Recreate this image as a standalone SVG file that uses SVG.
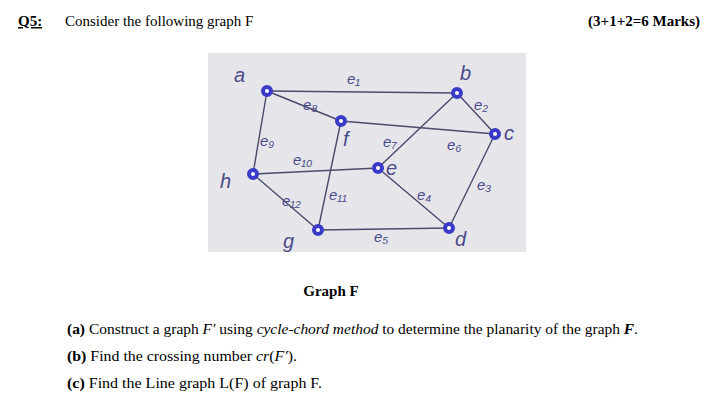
<svg xmlns="http://www.w3.org/2000/svg" width="716" height="405" viewBox="0 0 716 405">
<style>
.t{font-family:"Liberation Serif",serif;font-size:15px;fill:#000}
.b{font-weight:bold}
.n{fill:#fff;stroke:#3a3ac8;stroke-width:4}
.l{font-family:"Liberation Sans",sans-serif;font-size:15px;fill:#4a4a8a;font-style:italic}
.v{font-family:"Liberation Sans",sans-serif;font-size:20px;fill:#4a4a8a;font-style:italic}
.e{stroke:#4a4a6a;stroke-width:1.4;fill:none}
</style>
<rect width="716" height="405" fill="#fff"/>
<text class="t b" x="18" y="26" text-decoration="underline">Q5:</text>
<text class="t" x="65" y="26">Consider the following graph F</text>
<text class="t b" x="700" y="26" text-anchor="end">(3+1+2=6 Marks)</text>
<rect x="208" y="53" width="318" height="199" fill="#e6e6ea"/>
<g id="edges">
<line class="e" x1="267" y1="91" x2="457" y2="93"/>
<line class="e" x1="457" y1="93" x2="495" y2="134"/>
<line class="e" x1="495" y1="134" x2="449" y2="228"/>
<line class="e" x1="378" y1="168" x2="449" y2="228"/>
<line class="e" x1="318" y1="230" x2="449" y2="228"/>
<line class="e" x1="341" y1="121" x2="495" y2="134"/>
<line class="e" x1="457" y1="93" x2="378" y2="168"/>
<line class="e" x1="267" y1="91" x2="341" y2="121"/>
<line class="e" x1="267" y1="91" x2="253" y2="174"/>
<line class="e" x1="253" y1="174" x2="378" y2="168"/>
<line class="e" x1="341" y1="121" x2="318" y2="230"/>
<line class="e" x1="253" y1="174" x2="318" y2="230"/>
</g>
<g id="a"><circle class="n" cx="267" cy="91" r="4"/><text class="v" x="234" y="82">a</text></g>
<g id="b"><circle class="n" cx="457" cy="93" r="4"/><text class="v" x="460" y="80">b</text></g>
<g id="c"><circle class="n" cx="495" cy="134" r="4"/><text class="v" x="504" y="140">c</text></g>
<g id="d"><circle class="n" cx="449" cy="228" r="4"/><text class="v" x="455" y="246">d</text></g>
<g id="e"><circle class="n" cx="378" cy="168" r="4"/><text class="v" x="386" y="175">e</text></g>
<g id="f"><circle class="n" cx="341" cy="121" r="4"/><text class="v" x="343" y="146">f</text></g>
<g id="g"><circle class="n" cx="318" cy="230" r="4"/><text class="v" x="283" y="248">g</text></g>
<g id="h"><circle class="n" cx="253" cy="174" r="4"/><text class="v" x="220" y="188">h</text></g>
<g id="labels">
<text class="l" x="347" y="84">e₁</text>
<text class="l" x="474" y="110">e₂</text>
<text class="l" x="477" y="190">e₃</text>
<text class="l" x="417" y="200">e₄</text>
<text class="l" x="374" y="242">e₅</text>
<text class="l" x="447" y="150">e₆</text>
<text class="l" x="383" y="147">e₇</text>
<text class="l" x="303" y="110">e₈</text>
<text class="l" x="260" y="146">e₉</text>
<text class="l" x="293" y="165">e₁₀</text>
<text class="l" x="329" y="200">e₁₁</text>
<text class="l" x="282" y="206">e₁₂</text>
</g>
<text class="t b" x="331" y="296" text-anchor="middle">Graph F</text>
<text class="t" x="67" y="334" textLength="571" lengthAdjust="spacingAndGlyphs"><tspan class="b">(a)</tspan> Construct a graph <tspan font-style="italic">F′</tspan> using <tspan font-style="italic">cycle-chord method</tspan> to determine the planarity of the graph <tspan font-style="italic" font-weight="bold">F</tspan>.</text>
<text class="t" x="67" y="361" textLength="230" lengthAdjust="spacingAndGlyphs"><tspan class="b">(b)</tspan> Find the crossing number <tspan font-style="italic">cr</tspan>(<tspan font-style="italic">F′</tspan>).</text>
<text class="t" x="67" y="388" textLength="255" lengthAdjust="spacingAndGlyphs"><tspan class="b">(c)</tspan> Find the Line graph L(F) of graph F.</text>
</svg>
